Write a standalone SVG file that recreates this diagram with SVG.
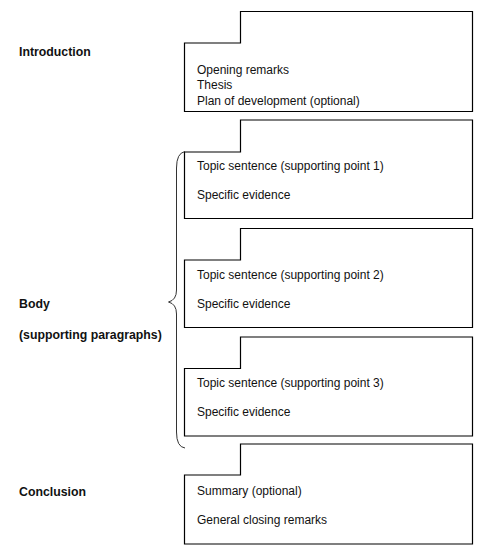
<svg xmlns="http://www.w3.org/2000/svg" width="484" height="550" viewBox="0 0 484 550">
<style>
.box{fill:#fff;stroke:#000;stroke-width:1.2}
.t{font-family:"Liberation Sans",Arial,sans-serif;font-size:12px;fill:#111}
.l{font-family:"Liberation Sans",Arial,sans-serif;font-size:12.3px;font-weight:bold;fill:#111}
.brace{fill:none;stroke:#333;stroke-width:1}
</style>
<rect width="484" height="550" fill="#fff"/>
<g id="label-intro"><text class="l" x="19" y="56">Introduction</text></g>
<g id="label-body"><text class="l" x="19" y="308">Body</text><text class="l" x="19" y="339">(supporting paragraphs)</text></g>
<g id="label-conclusion"><text class="l" x="19" y="496">Conclusion</text></g>
<g id="intro">
<path class="box" d="M240.5,11.5 H472.5 V111.5 H184.5 V43 H240.5 Z"/>
<text class="t" x="197" y="74">Opening remarks</text>
<text class="t" x="197" y="89">Thesis</text>
<text class="t" x="197" y="104.5">Plan of development (optional)</text>
</g>
<g id="body1">
<path class="box" d="M240.5,120 H472.5 V218.5 H184.5 V152 H240.5 Z"/>
<text class="t" x="197" y="170">Topic sentence (supporting point 1)</text>
<text class="t" x="197" y="198.5">Specific evidence</text>
</g>
<g id="body2">
<path class="box" d="M240.5,228.5 H472.5 V327.5 H184.5 V260 H240.5 Z"/>
<text class="t" x="197" y="279">Topic sentence (supporting point 2)</text>
<text class="t" x="197" y="307.5">Specific evidence</text>
</g>
<g id="body3">
<path class="box" d="M240.5,337 H472.5 V436 H184.5 V368.5 H240.5 Z"/>
<text class="t" x="197" y="387">Topic sentence (supporting point 3)</text>
<text class="t" x="197" y="416">Specific evidence</text>
</g>
<g id="conclusion">
<path class="box" d="M240.5,444 H472.5 V544 H184.5 V475 H240.5 Z"/>
<text class="t" x="197" y="495">Summary (optional)</text>
<text class="t" x="197" y="524">General closing remarks</text>
</g>
<g id="connectors">
<path class="brace" d="M185,151.5 Q176.5,153 176.5,168 L176.5,290 Q176.5,300 168.5,302 Q176.5,304 176.5,314 L176.5,432 Q176.5,447 185,448"/>
</g>
</svg>
